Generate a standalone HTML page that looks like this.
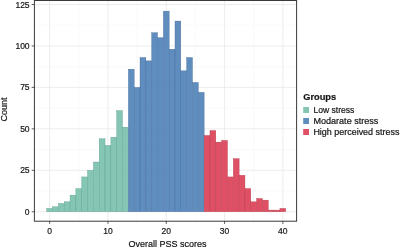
<!DOCTYPE html><html><head><meta charset="utf-8"><style>html,body{margin:0;padding:0;background:#fff;}svg{display:block;}text{font-family:"Liberation Sans",sans-serif;fill:#151515;stroke:#151515;stroke-width:0.2;}</style></head><body>
<svg width="400" height="248" viewBox="0 0 400 248">
<rect width="400" height="248" fill="#fff"/>
<line x1="78.80" x2="78.80" y1="0.5" y2="221.2" stroke="#f2f2f2" stroke-width="0.5"/>
<line x1="137.10" x2="137.10" y1="0.5" y2="221.2" stroke="#f2f2f2" stroke-width="0.5"/>
<line x1="195.40" x2="195.40" y1="0.5" y2="221.2" stroke="#f2f2f2" stroke-width="0.5"/>
<line x1="253.70" x2="253.70" y1="0.5" y2="221.2" stroke="#f2f2f2" stroke-width="0.5"/>
<line x1="34.4" x2="296.6" y1="191.03" y2="191.03" stroke="#f2f2f2" stroke-width="0.5"/>
<line x1="34.4" x2="296.6" y1="149.57" y2="149.57" stroke="#f2f2f2" stroke-width="0.5"/>
<line x1="34.4" x2="296.6" y1="108.12" y2="108.12" stroke="#f2f2f2" stroke-width="0.5"/>
<line x1="34.4" x2="296.6" y1="66.68" y2="66.68" stroke="#f2f2f2" stroke-width="0.5"/>
<line x1="34.4" x2="296.6" y1="25.23" y2="25.23" stroke="#f2f2f2" stroke-width="0.5"/>
<line x1="49.65" x2="49.65" y1="0.5" y2="221.2" stroke="#e9e9e9" stroke-width="0.8"/>
<line x1="107.95" x2="107.95" y1="0.5" y2="221.2" stroke="#e9e9e9" stroke-width="0.8"/>
<line x1="166.25" x2="166.25" y1="0.5" y2="221.2" stroke="#e9e9e9" stroke-width="0.8"/>
<line x1="224.55" x2="224.55" y1="0.5" y2="221.2" stroke="#e9e9e9" stroke-width="0.8"/>
<line x1="282.85" x2="282.85" y1="0.5" y2="221.2" stroke="#e9e9e9" stroke-width="0.8"/>
<line x1="34.4" x2="296.6" y1="211.75" y2="211.75" stroke="#e9e9e9" stroke-width="0.8"/>
<line x1="34.4" x2="296.6" y1="170.30" y2="170.30" stroke="#e9e9e9" stroke-width="0.8"/>
<line x1="34.4" x2="296.6" y1="128.85" y2="128.85" stroke="#e9e9e9" stroke-width="0.8"/>
<line x1="34.4" x2="296.6" y1="87.40" y2="87.40" stroke="#e9e9e9" stroke-width="0.8"/>
<line x1="34.4" x2="296.6" y1="45.95" y2="45.95" stroke="#e9e9e9" stroke-width="0.8"/>
<line x1="34.4" x2="296.6" y1="4.50" y2="4.50" stroke="#e9e9e9" stroke-width="0.8"/>
<rect x="46.73" y="208.43" width="5.830" height="3.32" fill="#84c5b3" stroke="#5a9c8a" stroke-width="0.35"/>
<rect x="52.56" y="206.78" width="5.830" height="4.97" fill="#84c5b3" stroke="#5a9c8a" stroke-width="0.35"/>
<rect x="58.39" y="203.46" width="5.830" height="8.29" fill="#84c5b3" stroke="#5a9c8a" stroke-width="0.35"/>
<rect x="64.22" y="201.80" width="5.830" height="9.95" fill="#84c5b3" stroke="#5a9c8a" stroke-width="0.35"/>
<rect x="70.06" y="195.17" width="5.830" height="16.58" fill="#84c5b3" stroke="#5a9c8a" stroke-width="0.35"/>
<rect x="75.88" y="188.54" width="5.830" height="23.21" fill="#84c5b3" stroke="#5a9c8a" stroke-width="0.35"/>
<rect x="81.72" y="176.93" width="5.830" height="34.82" fill="#84c5b3" stroke="#5a9c8a" stroke-width="0.35"/>
<rect x="87.55" y="170.30" width="5.830" height="41.45" fill="#84c5b3" stroke="#5a9c8a" stroke-width="0.35"/>
<rect x="93.38" y="162.01" width="5.830" height="49.74" fill="#84c5b3" stroke="#5a9c8a" stroke-width="0.35"/>
<rect x="99.20" y="138.80" width="5.830" height="72.95" fill="#84c5b3" stroke="#5a9c8a" stroke-width="0.35"/>
<rect x="105.03" y="145.43" width="5.830" height="66.32" fill="#84c5b3" stroke="#5a9c8a" stroke-width="0.35"/>
<rect x="110.87" y="137.14" width="5.830" height="74.61" fill="#84c5b3" stroke="#5a9c8a" stroke-width="0.35"/>
<rect x="116.69" y="110.61" width="5.830" height="101.14" fill="#84c5b3" stroke="#5a9c8a" stroke-width="0.35"/>
<rect x="122.53" y="127.19" width="5.830" height="84.56" fill="#84c5b3" stroke="#5a9c8a" stroke-width="0.35"/>
<rect x="128.35" y="69.16" width="5.830" height="142.59" fill="#5f8dbd" stroke="#44699a" stroke-width="0.35"/>
<rect x="134.19" y="87.40" width="5.830" height="124.35" fill="#5f8dbd" stroke="#44699a" stroke-width="0.35"/>
<rect x="140.01" y="57.56" width="5.830" height="154.19" fill="#5f8dbd" stroke="#44699a" stroke-width="0.35"/>
<rect x="145.84" y="60.87" width="5.830" height="150.88" fill="#5f8dbd" stroke="#44699a" stroke-width="0.35"/>
<rect x="151.68" y="32.69" width="5.830" height="179.06" fill="#5f8dbd" stroke="#44699a" stroke-width="0.35"/>
<rect x="157.50" y="37.66" width="5.830" height="174.09" fill="#5f8dbd" stroke="#44699a" stroke-width="0.35"/>
<rect x="163.34" y="11.13" width="5.830" height="200.62" fill="#5f8dbd" stroke="#44699a" stroke-width="0.35"/>
<rect x="169.16" y="49.27" width="5.830" height="162.48" fill="#5f8dbd" stroke="#44699a" stroke-width="0.35"/>
<rect x="175.00" y="21.08" width="5.830" height="190.67" fill="#5f8dbd" stroke="#44699a" stroke-width="0.35"/>
<rect x="180.83" y="70.82" width="5.830" height="140.93" fill="#5f8dbd" stroke="#44699a" stroke-width="0.35"/>
<rect x="186.66" y="57.56" width="5.830" height="154.19" fill="#5f8dbd" stroke="#44699a" stroke-width="0.35"/>
<rect x="192.49" y="82.43" width="5.830" height="129.32" fill="#5f8dbd" stroke="#44699a" stroke-width="0.35"/>
<rect x="198.31" y="92.37" width="5.830" height="119.38" fill="#5f8dbd" stroke="#44699a" stroke-width="0.35"/>
<rect x="204.15" y="135.48" width="5.830" height="76.27" fill="#e05064" stroke="#b03a4c" stroke-width="0.35"/>
<rect x="209.97" y="130.51" width="5.830" height="81.24" fill="#e05064" stroke="#b03a4c" stroke-width="0.35"/>
<rect x="215.81" y="142.11" width="5.830" height="69.64" fill="#e05064" stroke="#b03a4c" stroke-width="0.35"/>
<rect x="221.64" y="140.46" width="5.830" height="71.29" fill="#e05064" stroke="#b03a4c" stroke-width="0.35"/>
<rect x="227.47" y="176.93" width="5.830" height="34.82" fill="#e05064" stroke="#b03a4c" stroke-width="0.35"/>
<rect x="233.30" y="158.69" width="5.830" height="53.06" fill="#e05064" stroke="#b03a4c" stroke-width="0.35"/>
<rect x="239.12" y="175.27" width="5.830" height="36.48" fill="#e05064" stroke="#b03a4c" stroke-width="0.35"/>
<rect x="244.96" y="188.54" width="5.830" height="23.21" fill="#e05064" stroke="#b03a4c" stroke-width="0.35"/>
<rect x="250.78" y="201.80" width="5.830" height="9.95" fill="#e05064" stroke="#b03a4c" stroke-width="0.35"/>
<rect x="256.62" y="198.49" width="5.830" height="13.26" fill="#e05064" stroke="#b03a4c" stroke-width="0.35"/>
<rect x="262.44" y="200.14" width="5.830" height="11.61" fill="#e05064" stroke="#b03a4c" stroke-width="0.35"/>
<rect x="268.27" y="210.09" width="5.830" height="1.66" fill="#e05064" stroke="#b03a4c" stroke-width="0.35"/>
<rect x="274.11" y="210.09" width="5.830" height="1.66" fill="#e05064" stroke="#b03a4c" stroke-width="0.35"/>
<rect x="279.94" y="208.43" width="5.830" height="3.32" fill="#e05064" stroke="#b03a4c" stroke-width="0.35"/>
<rect x="34.4" y="0.5" width="262.20000000000005" height="220.7" fill="none" stroke="#3a3a3a" stroke-width="1"/>
<line x1="49.65" x2="49.65" y1="221.2" y2="223.89999999999998" stroke="#333" stroke-width="0.8"/>
<text x="49.65" y="233.5" font-size="8.5" text-anchor="middle">0</text>
<line x1="107.95" x2="107.95" y1="221.2" y2="223.89999999999998" stroke="#333" stroke-width="0.8"/>
<text x="107.95" y="233.5" font-size="8.5" text-anchor="middle">10</text>
<line x1="166.25" x2="166.25" y1="221.2" y2="223.89999999999998" stroke="#333" stroke-width="0.8"/>
<text x="166.25" y="233.5" font-size="8.5" text-anchor="middle">20</text>
<line x1="224.55" x2="224.55" y1="221.2" y2="223.89999999999998" stroke="#333" stroke-width="0.8"/>
<text x="224.55" y="233.5" font-size="8.5" text-anchor="middle">30</text>
<line x1="282.85" x2="282.85" y1="221.2" y2="223.89999999999998" stroke="#333" stroke-width="0.8"/>
<text x="282.85" y="233.5" font-size="8.5" text-anchor="middle">40</text>
<line x1="31.7" x2="34.4" y1="211.75" y2="211.75" stroke="#333" stroke-width="0.8"/>
<text x="29.6" y="214.75" font-size="8.5" text-anchor="end">0</text>
<line x1="31.7" x2="34.4" y1="170.30" y2="170.30" stroke="#333" stroke-width="0.8"/>
<text x="29.6" y="173.30" font-size="8.5" text-anchor="end">25</text>
<line x1="31.7" x2="34.4" y1="128.85" y2="128.85" stroke="#333" stroke-width="0.8"/>
<text x="29.6" y="131.85" font-size="8.5" text-anchor="end">50</text>
<line x1="31.7" x2="34.4" y1="87.40" y2="87.40" stroke="#333" stroke-width="0.8"/>
<text x="29.6" y="90.40" font-size="8.5" text-anchor="end">75</text>
<line x1="31.7" x2="34.4" y1="45.95" y2="45.95" stroke="#333" stroke-width="0.8"/>
<text x="29.6" y="48.95" font-size="8.5" text-anchor="end">100</text>
<line x1="31.7" x2="34.4" y1="4.50" y2="4.50" stroke="#333" stroke-width="0.8"/>
<text x="29.6" y="7.50" font-size="8.5" text-anchor="end">125</text>
<text x="167.6" y="246.8" font-size="9.4" text-anchor="middle" textLength="78" lengthAdjust="spacingAndGlyphs">Overall PSS scores</text>
<text transform="translate(7.3,109.4) rotate(-90)" font-size="9.4" text-anchor="middle" textLength="24" lengthAdjust="spacingAndGlyphs">Count</text>
<text x="303.2" y="100" font-size="9" font-weight="bold" textLength="33" lengthAdjust="spacingAndGlyphs">Groups</text>
<rect x="303.2" y="107.00" width="5.8" height="6" fill="#84c5b3"/>
<text x="313.4" y="113.00" font-size="8.6" textLength="41" lengthAdjust="spacingAndGlyphs">Low stress</text>
<rect x="303.2" y="118.00" width="5.8" height="6" fill="#5f8dbd"/>
<text x="313.4" y="124.00" font-size="8.6" textLength="65" lengthAdjust="spacingAndGlyphs">Modarate stress</text>
<rect x="303.2" y="129.00" width="5.8" height="6" fill="#e05064"/>
<text x="313.4" y="135.00" font-size="8.6" textLength="86" lengthAdjust="spacingAndGlyphs">High perceived stress</text>
</svg></body></html>
